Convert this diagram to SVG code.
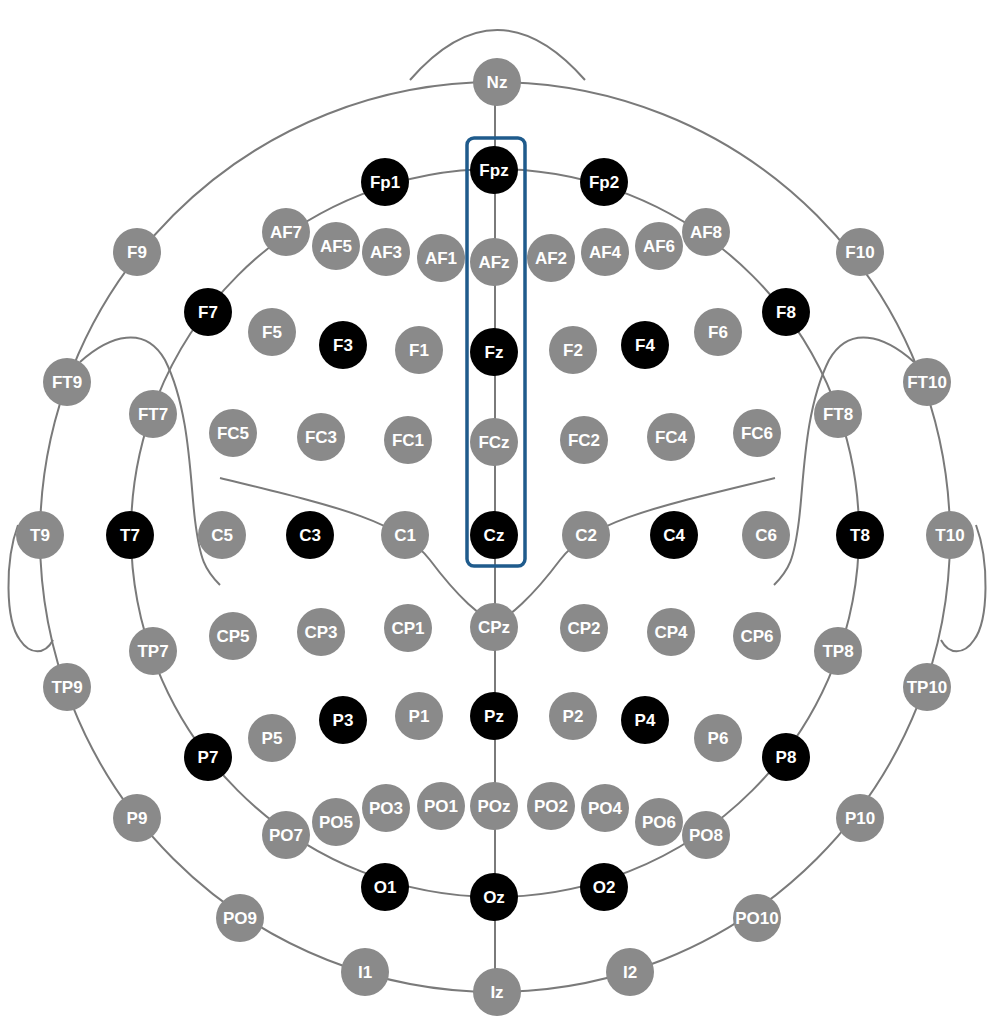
<svg xmlns="http://www.w3.org/2000/svg" width="997" height="1024" viewBox="0 0 997 1024">
<style>
.l{fill:none;stroke:#7a7a7a;stroke-width:2}
.g circle{fill:#8a8a8a}
.b circle{fill:#000}
text{font-family:"Liberation Sans",Arial,sans-serif;font-weight:bold;font-size:17px;fill:#fff;text-anchor:middle;dominant-baseline:central}
</style>
<rect width="997" height="1024" fill="#fff"/>
<g id="connectors">
<circle class="l" cx="495" cy="537" r="455"/>
<circle class="l" cx="495" cy="533" r="364"/>
<line class="l" x1="495" y1="82" x2="495" y2="992"/>
<path class="l" d="M410,80 Q497,-20 585,80"/>
<path class="l" d="M80,362 C110,335 145,325 165,360 C190,410 190,480 195,520 C200,560 205,570 220,585"/>
<path class="l" d="M914,362 C884,335 849,325 829,360 C804,410 804,480 799,520 C794,560 789,570 774,585"/>
<path class="l" d="M18,525 C5,560 5,620 20,640 C30,655 45,655 53,640"/>
<path class="l" d="M976,525 C989,560 989,620 974,640 C964,655 949,655 941,640"/>
<path class="l" d="M220,478 C330,505 400,520 430,560 C460,600 480,615 495,625"/>
<path class="l" d="M775,478 C665,505 590,520 560,560 C530,600 510,615 495,625"/>
</g>
<g id="nodes">
<g id="Nz" class="g"><circle cx="497" cy="82" r="24"/><text x="497" y="82">Nz</text></g>
<g id="Fp1" class="b"><circle cx="385" cy="182" r="24"/><text x="385" y="182">Fp1</text></g>
<g id="Fpz" class="b"><circle cx="494" cy="170" r="24"/><text x="494" y="170">Fpz</text></g>
<g id="Fp2" class="b"><circle cx="604" cy="182" r="24"/><text x="604" y="182">Fp2</text></g>
<g id="F9" class="g"><circle cx="137" cy="252" r="24"/><text x="137" y="252">F9</text></g>
<g id="AF7" class="g"><circle cx="286" cy="232" r="24"/><text x="286" y="232">AF7</text></g>
<g id="AF5" class="g"><circle cx="336" cy="246" r="24"/><text x="336" y="246">AF5</text></g>
<g id="AF3" class="g"><circle cx="386" cy="252" r="24"/><text x="386" y="252">AF3</text></g>
<g id="AF1" class="g"><circle cx="441" cy="258" r="24"/><text x="441" y="258">AF1</text></g>
<g id="AFz" class="g"><circle cx="494" cy="262" r="24"/><text x="494" y="262">AFz</text></g>
<g id="AF2" class="g"><circle cx="551" cy="258" r="24"/><text x="551" y="258">AF2</text></g>
<g id="AF4" class="g"><circle cx="605" cy="252" r="24"/><text x="605" y="252">AF4</text></g>
<g id="AF6" class="g"><circle cx="659" cy="246" r="24"/><text x="659" y="246">AF6</text></g>
<g id="AF8" class="g"><circle cx="706" cy="232" r="24"/><text x="706" y="232">AF8</text></g>
<g id="F10" class="g"><circle cx="860" cy="252" r="24"/><text x="860" y="252">F10</text></g>
<g id="F7" class="b"><circle cx="208" cy="312" r="24"/><text x="208" y="312">F7</text></g>
<g id="F5" class="g"><circle cx="272" cy="332" r="24"/><text x="272" y="332">F5</text></g>
<g id="F3" class="b"><circle cx="343" cy="345" r="24"/><text x="343" y="345">F3</text></g>
<g id="F1" class="g"><circle cx="419" cy="350" r="24"/><text x="419" y="350">F1</text></g>
<g id="Fz" class="b"><circle cx="494" cy="352" r="24"/><text x="494" y="352">Fz</text></g>
<g id="F2" class="g"><circle cx="573" cy="350" r="24"/><text x="573" y="350">F2</text></g>
<g id="F4" class="b"><circle cx="645" cy="345" r="24"/><text x="645" y="345">F4</text></g>
<g id="F6" class="g"><circle cx="718" cy="332" r="24"/><text x="718" y="332">F6</text></g>
<g id="F8" class="b"><circle cx="786" cy="312" r="24"/><text x="786" y="312">F8</text></g>
<g id="FT9" class="g"><circle cx="67" cy="382" r="24"/><text x="67" y="382">FT9</text></g>
<g id="FT7" class="g"><circle cx="153" cy="414" r="24"/><text x="153" y="414">FT7</text></g>
<g id="FC5" class="g"><circle cx="233" cy="433" r="24"/><text x="233" y="433">FC5</text></g>
<g id="FC3" class="g"><circle cx="321" cy="437" r="24"/><text x="321" y="437">FC3</text></g>
<g id="FC1" class="g"><circle cx="408" cy="440" r="24"/><text x="408" y="440">FC1</text></g>
<g id="FCz" class="g"><circle cx="494" cy="442" r="24"/><text x="494" y="442">FCz</text></g>
<g id="FC2" class="g"><circle cx="584" cy="440" r="24"/><text x="584" y="440">FC2</text></g>
<g id="FC4" class="g"><circle cx="671" cy="437" r="24"/><text x="671" y="437">FC4</text></g>
<g id="FC6" class="g"><circle cx="757" cy="433" r="24"/><text x="757" y="433">FC6</text></g>
<g id="FT8" class="g"><circle cx="838" cy="414" r="24"/><text x="838" y="414">FT8</text></g>
<g id="FT10" class="g"><circle cx="927" cy="382" r="24"/><text x="927" y="382">FT10</text></g>
<g id="T9" class="g"><circle cx="40" cy="535" r="24"/><text x="40" y="535">T9</text></g>
<g id="T7" class="b"><circle cx="130" cy="535" r="24"/><text x="130" y="535">T7</text></g>
<g id="C5" class="g"><circle cx="222" cy="535" r="24"/><text x="222" y="535">C5</text></g>
<g id="C3" class="b"><circle cx="310" cy="535" r="24"/><text x="310" y="535">C3</text></g>
<g id="C1" class="g"><circle cx="405" cy="535" r="24"/><text x="405" y="535">C1</text></g>
<g id="Cz" class="b"><circle cx="494" cy="535" r="24"/><text x="494" y="535">Cz</text></g>
<g id="C2" class="g"><circle cx="586" cy="535" r="24"/><text x="586" y="535">C2</text></g>
<g id="C4" class="b"><circle cx="674" cy="535" r="24"/><text x="674" y="535">C4</text></g>
<g id="C6" class="g"><circle cx="766" cy="535" r="24"/><text x="766" y="535">C6</text></g>
<g id="T8" class="b"><circle cx="860" cy="535" r="24"/><text x="860" y="535">T8</text></g>
<g id="T10" class="g"><circle cx="950" cy="535" r="24"/><text x="950" y="535">T10</text></g>
<g id="TP7" class="g"><circle cx="153" cy="651" r="24"/><text x="153" y="651">TP7</text></g>
<g id="CP5" class="g"><circle cx="233" cy="636" r="24"/><text x="233" y="636">CP5</text></g>
<g id="CP3" class="g"><circle cx="321" cy="632" r="24"/><text x="321" y="632">CP3</text></g>
<g id="CP1" class="g"><circle cx="408" cy="628" r="24"/><text x="408" y="628">CP1</text></g>
<g id="CPz" class="g"><circle cx="494" cy="627" r="24"/><text x="494" y="627">CPz</text></g>
<g id="CP2" class="g"><circle cx="584" cy="628" r="24"/><text x="584" y="628">CP2</text></g>
<g id="CP4" class="g"><circle cx="671" cy="632" r="24"/><text x="671" y="632">CP4</text></g>
<g id="CP6" class="g"><circle cx="757" cy="636" r="24"/><text x="757" y="636">CP6</text></g>
<g id="TP8" class="g"><circle cx="838" cy="651" r="24"/><text x="838" y="651">TP8</text></g>
<g id="TP9" class="g"><circle cx="67" cy="687" r="24"/><text x="67" y="687">TP9</text></g>
<g id="TP10" class="g"><circle cx="927" cy="687" r="24"/><text x="927" y="687">TP10</text></g>
<g id="P7" class="b"><circle cx="208" cy="757" r="24"/><text x="208" y="757">P7</text></g>
<g id="P5" class="g"><circle cx="272" cy="738" r="24"/><text x="272" y="738">P5</text></g>
<g id="P3" class="b"><circle cx="343" cy="720" r="24"/><text x="343" y="720">P3</text></g>
<g id="P1" class="g"><circle cx="419" cy="716" r="24"/><text x="419" y="716">P1</text></g>
<g id="Pz" class="b"><circle cx="494" cy="716" r="24"/><text x="494" y="716">Pz</text></g>
<g id="P2" class="g"><circle cx="573" cy="716" r="24"/><text x="573" y="716">P2</text></g>
<g id="P4" class="b"><circle cx="645" cy="720" r="24"/><text x="645" y="720">P4</text></g>
<g id="P6" class="g"><circle cx="718" cy="738" r="24"/><text x="718" y="738">P6</text></g>
<g id="P8" class="b"><circle cx="786" cy="757" r="24"/><text x="786" y="757">P8</text></g>
<g id="P9" class="g"><circle cx="137" cy="818" r="24"/><text x="137" y="818">P9</text></g>
<g id="PO7" class="g"><circle cx="286" cy="835" r="24"/><text x="286" y="835">PO7</text></g>
<g id="PO5" class="g"><circle cx="336" cy="822" r="24"/><text x="336" y="822">PO5</text></g>
<g id="PO3" class="g"><circle cx="386" cy="808" r="24"/><text x="386" y="808">PO3</text></g>
<g id="PO1" class="g"><circle cx="441" cy="806" r="24"/><text x="441" y="806">PO1</text></g>
<g id="POz" class="g"><circle cx="494" cy="806" r="24"/><text x="494" y="806">POz</text></g>
<g id="PO2" class="g"><circle cx="551" cy="806" r="24"/><text x="551" y="806">PO2</text></g>
<g id="PO4" class="g"><circle cx="605" cy="808" r="24"/><text x="605" y="808">PO4</text></g>
<g id="PO6" class="g"><circle cx="659" cy="822" r="24"/><text x="659" y="822">PO6</text></g>
<g id="PO8" class="g"><circle cx="706" cy="835" r="24"/><text x="706" y="835">PO8</text></g>
<g id="P10" class="g"><circle cx="860" cy="818" r="24"/><text x="860" y="818">P10</text></g>
<g id="O1" class="b"><circle cx="385" cy="887" r="24"/><text x="385" y="887">O1</text></g>
<g id="Oz" class="b"><circle cx="494" cy="897" r="24"/><text x="494" y="897">Oz</text></g>
<g id="O2" class="b"><circle cx="604" cy="887" r="24"/><text x="604" y="887">O2</text></g>
<g id="PO9" class="g"><circle cx="240" cy="918" r="24"/><text x="240" y="918">PO9</text></g>
<g id="PO10" class="g"><circle cx="757" cy="918" r="24"/><text x="757" y="918">PO10</text></g>
<g id="I1" class="g"><circle cx="365" cy="972" r="24"/><text x="365" y="972">I1</text></g>
<g id="Iz" class="g"><circle cx="497" cy="992" r="24"/><text x="497" y="992">Iz</text></g>
<g id="I2" class="g"><circle cx="630" cy="972" r="24"/><text x="630" y="972">I2</text></g>
</g>
<rect id="highlight" x="467" y="138" width="58" height="428" rx="7" fill="none" stroke="#1f5b8c" stroke-width="3.5"/>
</svg>
